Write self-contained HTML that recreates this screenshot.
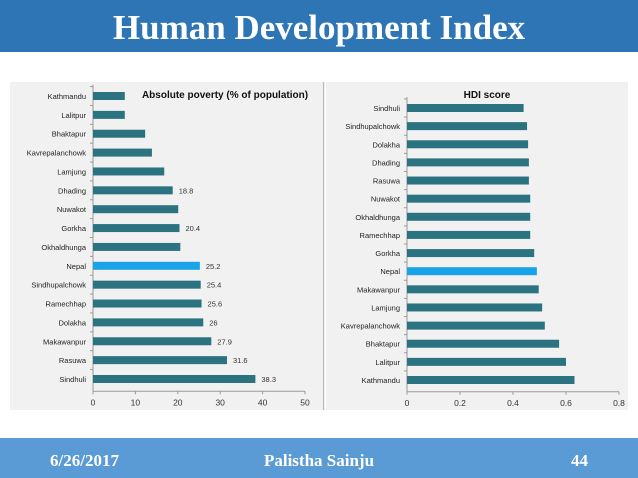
<!DOCTYPE html>
<html><head><meta charset="utf-8"><style>
body{margin:0;width:638px;height:478px;overflow:hidden;background:#fff;font-family:"Liberation Sans",sans-serif}
svg{display:block}
</style></head><body>
<svg width="638" height="478">
<rect x="0" y="0" width="638" height="52" fill="#2e75b6"/>
<text x="319" y="39" text-anchor="middle" fill="#fff" font-family="Liberation Serif" font-weight="bold" font-size="35">Human Development Index</text>
<rect x="10" y="82" width="312" height="328" fill="#f1f1f1"/>
<rect x="326" y="82" width="302" height="328" fill="#f1f1f1"/>
<line x1="323.5" y1="82" x2="323.5" y2="410" stroke="#bbb" stroke-width="1.5"/>
<g id="left"></g>
<g id="right"></g>
<rect x="0" y="438" width="638" height="40" fill="#5b9bd5"/>
<text x="50" y="466" fill="#fff" font-family="Liberation Serif" font-weight="bold" font-size="17">6/26/2017</text>
<text x="319" y="466" text-anchor="middle" fill="#fff" font-family="Liberation Serif" font-weight="bold" font-size="17">Palistha Sainju</text>
<text x="588" y="466" text-anchor="end" fill="#fff" font-family="Liberation Serif" font-weight="bold" font-size="17">44</text>
</svg>
<script>
const povCats=["Kathmandu","Lalitpur","Bhaktapur","Kavrepalanchowk","Lamjung","Dhading","Nuwakot","Gorkha","Okhaldhunga","Nepal","Sindhupalchowk","Ramechhap","Dolakha","Makawanpur","Rasuwa","Sindhuli"];
const povVals=[7.5,7.5,12.3,13.9,16.8,18.8,20.1,20.4,20.6,25.2,25.4,25.6,26,27.9,31.6,38.3];
const povLabels=["","","","","","18.8","","20.4","","25.2","25.4","25.6","26","27.9","31.6","38.3"];
const povTicks=[0,10,20,30,40,50];
const hdiCats=["Sindhuli","Sindhupalchowk","Dolakha","Dhading","Rasuwa","Nuwakot","Okhaldhunga","Ramechhap","Gorkha","Nepal","Makawanpur","Lamjung","Kavrepalanchowk","Bhaktapur","Lalitpur","Kathmandu"];
const hdiVals=[0.44,0.453,0.457,0.46,0.46,0.465,0.465,0.465,0.48,0.49,0.497,0.51,0.52,0.574,0.6,0.632];
const hdiTicks=[0,0.2,0.4,0.6,0.8];
const NS="http://www.w3.org/2000/svg";
function mk(p,t,a,txt){const e=document.createElementNS(NS,t);for(const k in a)e.setAttribute(k,a[k]);if(txt!==undefined)e.textContent=txt;p.appendChild(e);return e;}
function chart(g,cats,vals,labels,ticks,x0,x1,max,y0,y1,title,tx){
  const xs=v=>x0+(v/max)*(x1-x0);
  const step=(y1-y0)/(cats.length-1);
  const ys=i=>y0+i*step;
  const t=mk(g,'text',{x:tx,y:98,'font-size':10,'font-weight':'bold',fill:'#111','text-anchor':'middle'},title);
  
  
  const axB=y1+step*0.65;
  const ay=mk(g,'line',{x1:x0,y1:ys(0)-step*0.6,x2:x0,y2:axB,stroke:'#999'});
  
  
  const ax=mk(g,'line',{x1:x0,y1:axB,x2:x1,y2:axB,stroke:'#999'});
  
  
  ticks.forEach(v=>{
    mk(g,'line',{x1:xs(v),y1:axB,x2:xs(v),y2:axB+3,stroke:'#999'});
    const tl=mk(g,'text',{x:xs(v),y:axB+14,'font-size':8.5,fill:'#333','text-anchor':'middle'},String(v));
    
    
  });
  cats.forEach((c,i)=>{
    const y=ys(i);
    mk(g,'line',{x1:x0-3,y1:y-step/2,x2:x0,y2:y-step/2,stroke:'#999'});
    const cl=mk(g,'text',{x:x0-7,y:y+3,'font-size':7.5,fill:'#222','text-anchor':'end'},c);
    
    
    const b=mk(g,'rect',{x:x0,y:y-4,width:xs(vals[i])-x0,height:8,fill:c==='Nepal'?'#1aa3e8':'#2b7380'});
    
    
    if(labels&&labels[i]){
      const vl=mk(g,'text',{x:xs(vals[i])+6,y:y+3,'font-size':7.5,fill:'#333'},labels[i]);
      
      
    }
  });
}
chart(document.getElementById('left'),povCats,povVals,povLabels,povTicks,93,305,50,96,379,'Absolute poverty (% of population)',225);
chart(document.getElementById('right'),hdiCats,hdiVals,null,hdiTicks,407,619,0.8,108,380,'HDI score',487);
</script>
</body></html>
